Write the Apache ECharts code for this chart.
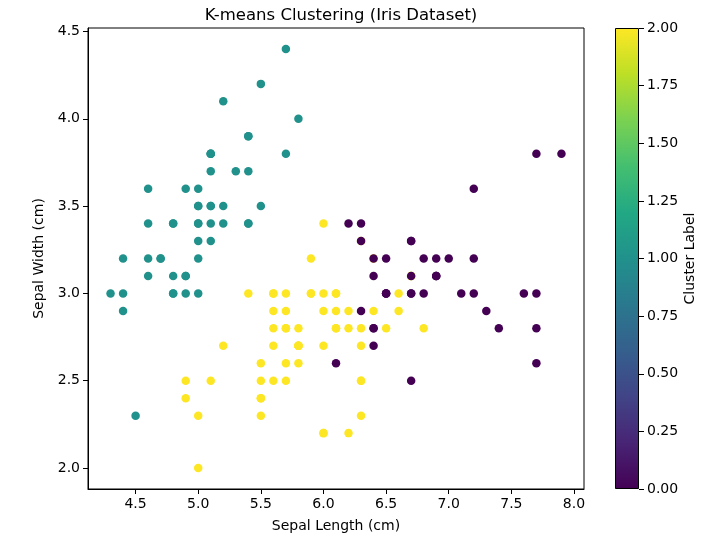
<!DOCTYPE html>
<html>
<head>
<meta charset="utf-8">
<script src="https://cdn.jsdelivr.net/npm/echarts@6/dist/echarts.min.js"></script>
<style>
  html, body { margin: 0; padding: 0; background: #fff; }
  #chart { width: 726px; height: 550px; }
</style>
</head>
<body>
<div id="chart"></div>
<script>
// iris sepal measurements, in dataset order (setosa, versicolor, virginica)
const sepalLength = [
  5.1, 4.9, 4.7, 4.6, 5.0, 5.4, 4.6, 5.0, 4.4, 4.9, 5.4, 4.8, 4.8, 4.3, 5.8, 5.7, 5.4, 5.1, 5.7, 5.1,
  5.4, 5.1, 4.6, 5.1, 4.8, 5.0, 5.0, 5.2, 5.2, 4.7, 4.8, 5.4, 5.2, 5.5, 4.9, 5.0, 5.5, 4.9, 4.4, 5.1,
  5.0, 4.5, 4.4, 5.0, 5.1, 4.8, 5.1, 4.6, 5.3, 5.0,
  7.0, 6.4, 6.9, 5.5, 6.5, 5.7, 6.3, 4.9, 6.6, 5.2, 5.0, 5.9, 6.0, 6.1, 5.6, 6.7, 5.6, 5.8, 6.2, 5.6,
  5.9, 6.1, 6.3, 6.1, 6.4, 6.6, 6.8, 6.7, 6.0, 5.7, 5.5, 5.5, 5.8, 6.0, 5.4, 6.0, 6.7, 6.3, 5.6, 5.5,
  5.5, 6.1, 5.8, 5.0, 5.6, 5.7, 5.7, 6.2, 5.1, 5.7,
  6.3, 5.8, 7.1, 6.3, 6.5, 7.6, 4.9, 7.3, 6.7, 7.2, 6.5, 6.4, 6.8, 5.7, 5.8, 6.4, 6.5, 7.7, 7.7, 6.0,
  6.9, 5.6, 7.7, 6.3, 6.7, 7.2, 6.2, 6.1, 6.4, 7.2, 7.4, 7.9, 6.4, 6.3, 6.1, 7.7, 6.3, 6.4, 6.0, 6.9,
  6.7, 6.9, 5.8, 6.8, 6.7, 6.7, 6.3, 6.5, 6.2, 5.9
]
const sepalWidth = [
  3.5, 3.0, 3.2, 3.1, 3.6, 3.9, 3.4, 3.4, 2.9, 3.1, 3.7, 3.4, 3.0, 3.0, 4.0, 4.4, 3.9, 3.5, 3.8, 3.8,
  3.4, 3.7, 3.6, 3.3, 3.4, 3.0, 3.4, 3.5, 3.4, 3.2, 3.1, 3.4, 4.1, 4.2, 3.1, 3.2, 3.5, 3.6, 3.0, 3.4,
  3.5, 2.3, 3.2, 3.5, 3.8, 3.0, 3.8, 3.2, 3.7, 3.3,
  3.2, 3.2, 3.1, 2.3, 2.8, 2.8, 3.3, 2.4, 2.9, 2.7, 2.0, 3.0, 2.2, 2.9, 2.9, 3.1, 3.0, 2.7, 2.2, 2.5,
  3.2, 2.8, 2.5, 2.8, 2.9, 3.0, 2.8, 3.0, 2.9, 2.6, 2.4, 2.4, 2.7, 2.7, 3.0, 3.4, 3.1, 2.3, 3.0, 2.5,
  2.6, 3.0, 2.6, 2.3, 2.7, 3.0, 2.9, 2.9, 2.5, 2.8,
  3.3, 2.7, 3.0, 2.9, 3.0, 3.0, 2.5, 2.9, 2.5, 3.6, 3.2, 2.7, 3.0, 2.5, 2.8, 3.2, 3.0, 3.8, 2.6, 2.2,
  3.2, 2.8, 2.8, 2.7, 3.3, 3.2, 2.8, 3.0, 2.8, 3.0, 2.8, 3.8, 2.8, 2.8, 2.6, 3.0, 3.4, 3.1, 3.0, 3.1,
  3.1, 3.1, 2.7, 3.2, 3.3, 3.0, 2.5, 3.0, 3.4, 3.0
]
const clusterLabel = [
  1, 1, 1, 1, 1, 1, 1, 1, 1, 1, 1, 1, 1, 1, 1, 1, 1, 1, 1, 1,
  1, 1, 1, 1, 1, 1, 1, 1, 1, 1, 1, 1, 1, 1, 1, 1, 1, 1, 1, 1,
  1, 1, 1, 1, 1, 1, 1, 1, 1, 1,
  0, 2, 0, 2, 2, 2, 2, 2, 2, 2, 2, 2, 2, 2, 2, 2, 2, 2, 2, 2,
  2, 2, 2, 2, 2, 2, 2, 0, 2, 2, 2, 2, 2, 2, 2, 2, 2, 2, 2, 2,
  2, 2, 2, 2, 2, 2, 2, 2, 2, 2,
  0, 2, 0, 0, 0, 0, 2, 0, 0, 0, 0, 0, 0, 2, 2, 0, 0, 0, 0, 2,
  0, 2, 0, 2, 0, 0, 2, 2, 0, 0, 0, 0, 0, 2, 0, 0, 0, 0, 2, 0,
  0, 0, 2, 0, 0, 0, 2, 0, 0, 2
]

const xTicks = [4.5, 5.0, 5.5, 6.0, 6.5, 7.0, 7.5, 8.0]
const yTicks = [2.0, 2.5, 3.0, 3.5, 4.0, 4.5]

const VIRIDIS = [
  '#440154', '#482475', '#414487', '#355f8d', '#2a788e',
  '#21918c', '#22a884', '#44bf70', '#7ad151', '#bddf26', '#fde725',
]

const FONT = 'DejaVu Sans'
const chart = echarts.init(document.getElementById('chart'))

const points = sepalLength.map((x, i) => [x, sepalWidth[i], clusterLabel[i]])

chart.setOption({
  animation: false,
  textStyle: { fontFamily: FONT, color: '#000' },
  title: {
    text: 'K-means Clustering (Iris Dataset)',
    left: 336,
    textAlign: 'center',
    top: 2,
    textStyle: { fontFamily: FONT, fontSize: 16.5, fontWeight: 'normal', color: '#000' },
  },
  grid: [
    { left: 88, right: 142, top: 28, bottom: 61, show: true, borderColor: '#000', borderWidth: 1 },
    { left: 615, right: 87, top: 28, bottom: 61 },
  ],
  visualMap: {
    type: 'continuous',
    show: false,
    seriesIndex: 0,
    dimension: 2,
    min: 0,
    max: 2,
    inRange: { color: VIRIDIS },
  },
  xAxis: [
    {
      gridIndex: 0,
      type: 'value',
      min: 4.12,
      max: 8.08,
      name: 'Sepal Length (cm)',
      nameLocation: 'middle',
      nameGap: 30,
      nameTextStyle: { fontFamily: FONT, fontSize: 14, color: '#000' },
      axisLine: { lineStyle: { color: '#000', width: 1 } },
      axisTick: { length: 5, lineStyle: { color: '#000' }, customValues: xTicks },
      axisLabel: {
        fontFamily: FONT, fontSize: 14, color: '#000', margin: 8,
        customValues: xTicks, formatter: (v) => v.toFixed(1),
      },
      splitLine: { show: false },
    },
    {
      gridIndex: 1,
      type: 'category',
      data: ['cb'],
      show: false,
    },
  ],
  yAxis: [
    {
      gridIndex: 0,
      type: 'value',
      min: 1.88,
      max: 4.52,
      name: 'Sepal Width (cm)',
      nameLocation: 'middle',
      nameGap: 37,
      nameRotate: 90,
      nameTextStyle: { fontFamily: FONT, fontSize: 14, color: '#000' },
      axisLine: { show: true, lineStyle: { color: '#000', width: 1 } },
      axisTick: { show: true, length: 5, lineStyle: { color: '#000' }, customValues: yTicks },
      axisLabel: {
        fontFamily: FONT, fontSize: 14, color: '#000', margin: 8,
        customValues: yTicks, formatter: (v) => v.toFixed(1),
      },
      splitLine: { show: false },
    },
    {
      gridIndex: 1,
      type: 'value',
      position: 'right',
      min: 0,
      max: 2,
      interval: 0.25,
      name: 'Cluster Label',
      nameLocation: 'middle',
      nameGap: 44,
      nameRotate: 90,
      nameTextStyle: { fontFamily: FONT, fontSize: 14, color: '#000' },
      axisLine: { show: false },
      axisTick: { show: true, length: 5, lineStyle: { color: '#000' } },
      axisLabel: { fontFamily: FONT, fontSize: 14, color: '#000', margin: 8, formatter: (v) => v.toFixed(2) },
      splitLine: { show: false },
    },
  ],
  series: [
    {
      type: 'scatter',
      xAxisIndex: 0,
      yAxisIndex: 0,
      symbolSize: 8.5,
      itemStyle: { opacity: 1 },
      data: points,
      silent: true,
    },
    {
      type: 'bar',
      xAxisIndex: 1,
      yAxisIndex: 1,
      barWidth: '100%',
      silent: true,
      data: [2],
      itemStyle: {
        borderColor: '#000',
        borderWidth: 1,
        color: new echarts.graphic.LinearGradient(0, 0, 0, 1,
          VIRIDIS.slice().reverse().map((c, i) => ({ offset: i / (VIRIDIS.length - 1), color: c }))),
      },
    },
  ],
})
</script>
</body>
</html>
